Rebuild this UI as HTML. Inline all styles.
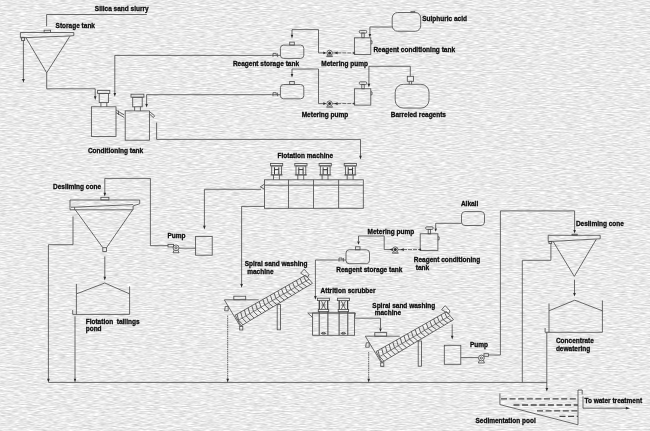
<!DOCTYPE html>
<html><head><meta charset="utf-8"><title>Silica sand flotation process flow</title>
<style>
html,body{margin:0;padding:0;background:#e4e4e4;}
body{width:650px;height:431px;overflow:hidden;}
svg{display:block;will-change:transform;}
svg path,svg rect,svg circle,svg polygon,svg polyline,svg ellipse{fill:none;stroke:#505050;stroke-width:0.85;}
svg .f{fill:#2a2a2a;stroke:none;}
svg .bg{stroke:none;}
svg text{font-family:"Liberation Sans",Arial,sans-serif;font-weight:bold;font-size:6.5px;fill:#0c0c0c;stroke:#0c0c0c;stroke-width:0.28;paint-order:stroke;white-space:pre;}
</style></head>
<body>
<svg width="650" height="431" viewBox="0 0 650 431">
<defs>
<filter id="tex" x="0" y="0" width="100%" height="100%" color-interpolation-filters="sRGB">
<feTurbulence type="fractalNoise" baseFrequency="0.15 0.95" numOctaves="2" seed="7"/>
<feColorMatrix type="matrix" values="0.3 0 0 0 0.768  0.3 0 0 0 0.768  0.3 0 0 0 0.768  0 0 0 0 1"/>
</filter>
</defs>
<rect class="bg" x="0" y="0" width="650" height="431" style="fill:#e9e9e9"/>
<rect class="bg" x="0" y="0" width="650" height="431" filter="url(#tex)" style="fill:#e9e9e9"/>
<text x="94.8" y="11.2">Silica sand slurry</text>
<path d="M146.8,14.5 H46.6 V26.3"/>
<text x="55.6" y="28.4">Storage tank</text>
<rect x="44.1" y="30.2" width="6.5" height="2.3"/>
<polygon points="20.4,32.5 73.8,32.5 73.8,35.6 69.9,36 26,37.6 20.4,37.8"/>
<rect x="21.4" y="37.6" width="3.2" height="2.8"/>
<path d="M26,37.8 L46.7,72.8 L69.9,36.2"/>
<path d="M23.4,40.4 V79.5"/>
<polygon class="f" points="23.4,82.8 22.1,79.1 24.7,79.1"/>
<path d="M46.7,72.8 V88.8 H95.2 V97"/>
<polygon class="f" points="95.2,100.0 93.9,96.3 96.5,96.3"/>
<path d="M271.5,55.4 H114.8 V93.5"/>
<polygon class="f" points="114.8,96.8 113.5,93.1 116.1,93.1"/>
<path d="M271.5,94.7 H146.6 V104"/>
<polygon class="f" points="146.6,107.6 145.3,103.9 147.9,103.9"/>
<rect x="97.6" y="90.4" width="12.2" height="3.0"/>
<rect x="99.2" y="93.4" width="9.2" height="9.2"/>
<path d="M100.9,102.6 V106.8 M106.8,102.6 V106.8"/>
<rect x="91.4" y="106.8" width="24.6" height="29.7"/>
<path d="M116,110 L124.3,115 M116,112.6 L124.3,117.6 M118.5,110.5 V115"/>
<rect x="131.0" y="94.2" width="12.9" height="3.0"/>
<rect x="132.7" y="97.2" width="9.5" height="9.6"/>
<path d="M134.6,106.8 V110.9 M140.4,106.8 V110.9"/>
<rect x="125.2" y="110.9" width="24.2" height="29.3"/>
<path d="M149.4,111.5 L154.6,115.8 M149.4,114 L153.4,117.6 L154.6,115.8"/>
<path d="M156.6,122.6 V139.4 H360.5 V156"/>
<polygon class="f" points="360.5,159.4 359.2,155.7 361.8,155.7"/>
<text x="87.9" y="152.8">Conditioning tank</text>
<rect x="280.4" y="45.1" width="23.4" height="13.3" rx="3.2"/>
<rect x="289.7" y="42.1" width="4.6" height="3.0"/>
<path d="M271.5,55.4 H280.4 M273,53.4 V56.9 M273,53.4 H276.2 V55.4 M277.6,53.4 V56.9"/>
<path d="M292,35.4 V29.6 H318.5 V52.9 H324.5"/>
<polygon class="f" points="292.0,38.4 290.7,34.7 293.3,34.7"/>
<polygon class="f" points="326.5,52.9 323.3,51.6 323.3,54.2"/>
<circle cx="329.6" cy="52.9" r="2.7"/>
<circle class="f" cx="329.6" cy="52.9" r="1.5"/>
<path d="M327.6,55.1 L326.6,56.5 H332.6 L331.6,55.1"/>
<path d="M332.3,52.9 H354.4" stroke-dasharray="4 1"/>
<polygon class="f" points="334.2,52.9 337.6,51.6 337.6,54.2"/>
<circle class="f" cx="354.2" cy="52.9" r="1"/>
<rect x="280.4" y="84.5" width="23.4" height="14.3" rx="3.2"/>
<rect x="289.7" y="81.5" width="4.6" height="3.0"/>
<path d="M271.5,94.7 H280.4 M273,92.7 V96.2 M273,92.7 H276.2 V94.7 M277.6,92.7 V96.2"/>
<path d="M292,74.6 V69 H318.5 V103.6 H324.5"/>
<polygon class="f" points="292.0,77.6 290.7,73.9 293.3,73.9"/>
<polygon class="f" points="326.5,103.6 323.3,102.3 323.3,104.9"/>
<circle cx="329.6" cy="103.6" r="2.7"/>
<circle class="f" cx="329.6" cy="103.6" r="1.5"/>
<path d="M327.6,105.8 L326.6,107.19999999999999 H332.6 L331.6,105.8"/>
<path d="M332.3,103.6 H354.4" stroke-dasharray="4 1"/>
<polygon class="f" points="334.2,103.6 337.6,102.3 337.6,104.9"/>
<circle class="f" cx="354.2" cy="103.6" r="1"/>
<text x="232.9" y="66.1">Reagent storage tank</text>
<text x="321.3" y="66.4">Metering pump</text>
<text x="301.7" y="116.8">Metering pump</text>
<rect x="354.4" y="37.8" width="16.4" height="16.6"/>
<rect x="359.3" y="30.4" width="7.4" height="2.6" rx="1"/>
<rect x="361.8" y="33.0" width="2.4" height="4.8"/>
<path d="M370.8,40.8 h1.2 v3 h-1.2"/>
<rect x="354.4" y="88.8" width="16.4" height="16.3"/>
<rect x="359.3" y="81.8" width="7.4" height="2.6" rx="1"/>
<rect x="361.8" y="84.4" width="2.4" height="4.4"/>
<path d="M370.8,91.8 h1.2 v3 h-1.2"/>
<text x="373.4" y="51.8">Reagent conditioning tank</text>
<rect x="392.2" y="12.5" width="28.5" height="18.8" rx="5.5"/>
<path d="M410.5,11.6 H415 V12.5"/>
<text x="422.2" y="20.9">Sulphuric acid</text>
<path d="M392.2,27 H369.9 V34.5"/>
<polygon class="f" points="369.9,37.6 368.6,34.0 371.2,34.0"/>
<rect x="395.2" y="84.3" width="33.8" height="23.8" rx="8"/>
<rect x="407.3" y="76.3" width="6.2" height="5.0"/>
<path d="M409.2,81.3 V84.3 M411.6,81.3 V84.3"/>
<path d="M410.3,76.3 V66.3 H368.9 V84"/>
<polygon class="f" points="368.9,87.4 367.6,83.8 370.2,83.8"/>
<text x="390.7" y="116.8">Barreled reagents</text>
<text x="277.5" y="157.5">Flotation machine</text>
<rect x="264.5" y="179.8" width="98.8" height="28.5"/>
<path d="M288.5,179.8 V208.3 M313.5,179.8 V208.3 M338.6,179.8 V208.3 M264.5,185.2 H363.3"/>
<rect x="270.5" y="163.5" width="12.2" height="2.4"/>
<rect x="271.7" y="165.9" width="9.8" height="9.0"/>
<path d="M270.5,174.9 H282.70000000000005 M273.5,174.9 V179.8 M279.40000000000003,174.9 V179.8"/>
<path d="M274.5,167.3 V174.3 M278.8,167.3 V174.3 M274.5,169.6 H278.8" style="stroke:#3a3a3a;stroke-width:1"/>
<rect x="294.8" y="163.5" width="12.2" height="2.4"/>
<rect x="296.0" y="165.9" width="9.8" height="9.0"/>
<path d="M294.79999999999995,174.9 H307.0 M297.79999999999995,174.9 V179.8 M303.7,174.9 V179.8"/>
<path d="M298.79999999999995,167.3 V174.3 M303.09999999999997,167.3 V174.3 M298.79999999999995,169.6 H303.09999999999997" style="stroke:#3a3a3a;stroke-width:1"/>
<rect x="319.1" y="163.5" width="12.2" height="2.4"/>
<rect x="320.3" y="165.9" width="9.8" height="9.0"/>
<path d="M319.09999999999997,174.9 H331.3 M322.09999999999997,174.9 V179.8 M328.0,174.9 V179.8"/>
<path d="M323.09999999999997,167.3 V174.3 M327.4,167.3 V174.3 M323.09999999999997,169.6 H327.4" style="stroke:#3a3a3a;stroke-width:1"/>
<rect x="344.2" y="163.5" width="12.2" height="2.4"/>
<rect x="345.4" y="165.9" width="9.8" height="9.0"/>
<path d="M344.2,174.9 H356.40000000000003 M347.2,174.9 V179.8 M353.1,174.9 V179.8"/>
<path d="M348.2,167.3 V174.3 M352.5,167.3 V174.3 M348.2,169.6 H352.5" style="stroke:#3a3a3a;stroke-width:1"/>
<path d="M264.5,184.2 L260.3,186.8 L264.5,189.3 M261,189.3 H204.4 V226"/>
<polygon class="f" points="204.4,229.4 203.1,225.8 205.7,225.8"/>
<path d="M264.5,206.4 H241.6 V284.3"/>
<polygon class="f" points="241.6,287.7 240.3,284.0 242.9,284.0"/>
<rect x="195.6" y="236.4" width="16.6" height="18.8"/>
<text x="167.5" y="237.8">Pump</text>
<path d="M195.6,248.2 H179"/>
<circle cx="176" cy="247.8" r="2.9"/>
<circle cx="176" cy="247.8" r="1.1"/>
<path d="M174,250.20000000000002 L173,252.8 H179 L178,250.20000000000002"/>
<rect x="168.0" y="244.4" width="5.6" height="2.6"/>
<path d="M168,245.7 H150.4 V178.4 H104.8 V193"/>
<polygon class="f" points="104.8,196.4 103.5,192.7 106.1,192.7"/>
<text x="53.0" y="189.4">Desliming cone</text>
<rect x="100.9" y="197.3" width="8.0" height="2.7"/>
<polygon points="70,200 139.7,200 139.7,203.8 133.1,205.9 133.1,209.8 70,209.8"/>
<path d="M71,207.3 L133.1,204.6 M74.6,207.2 V209.8"/>
<path d="M75.3,209.8 L102.8,247.7 M106.5,247.7 L132.6,209.8"/>
<rect x="102.8" y="247.7" width="3.7" height="3.8"/>
<path d="M73,216.4 V244.7 H48.4 V379"/>
<polygon class="f" points="48.4,382.4 47.1,378.7 49.7,378.7"/>
<path d="M104.8,256.5 V277"/>
<polygon class="f" points="104.8,280.4 103.5,276.7 106.1,276.7"/>
<path d="M76.4,293.9 L104.8,283 L129.6,293.9 M76.4,283.9 V314.4 M129.6,286.4 V314.4 M72.7,314.4 H129.6 M72.7,310 V314.4"/>
<path d="M75,316.4 V379"/>
<polygon class="f" points="75.0,382.4 73.7,378.7 76.3,378.7"/>
<text x="85.7" y="324.0">Flotation  tailings</text>
<text x="85.7" y="331.0">pond</text>
<path d="M48.4,382.4 H547"/>
<path d="M546.8,332.3 V388"/>
<polygon class="f" points="546.8,391.6 545.5,387.9 548.1,387.9"/>
<polyline points="258.7,299.8 224.3,299.8 240.3,326.3"/>
<rect x="233.8" y="296.2" width="11.9" height="3.6"/>
<polygon points="235.1,315.2 305.6,275.2 312.5,283.3 241.0,325.9"/>
<path d="M237.0,314.1 L238.6,320.2 L242.9,324.8 M240.7,312.0 L242.3,318.1 L246.6,322.5 M244.4,309.9 L246.1,315.9 L250.4,320.3 M248.1,307.8 L249.8,313.7 L254.2,318.1 M251.8,305.7 L253.6,311.5 L257.9,315.8 M255.5,303.6 L257.3,309.4 L261.7,313.6 M259.2,301.5 L261.0,307.2 L265.5,311.3 M262.9,299.4 L264.8,305.0 L269.2,309.1 M266.6,297.3 L268.5,302.8 L273.0,306.8 M270.4,295.2 L272.2,300.7 L276.8,304.6 M274.1,293.1 L276.0,298.5 L280.5,302.4 M277.8,291.0 L279.7,296.3 L284.3,300.1 M281.5,288.9 L283.5,294.1 L288.0,297.9 M285.2,286.8 L287.2,292.0 L291.8,295.6 M288.9,284.7 L290.9,289.8 L295.6,293.4 M292.6,282.6 L294.7,287.6 L299.3,291.1 M296.3,280.5 L298.4,285.4 L303.1,288.9 M300.0,278.4 L302.1,283.3 L306.9,286.7 M303.7,276.3 L305.9,281.1 L310.6,284.4 " style="stroke-width:0.85;stroke:#484848"/>
<path d="M238.1,320.5 L309.1,279.2" style="stroke-width:0.7"/>
<polygon points="300.6,273.2 304.2,269.2 309.0,274.6 307.6,277.4"/>
<polygon points="225.3,306.4 228.2,306.4 228.2,310.8 224.6,310.8"/>
<path d="M227.7,315.6 V379" stroke-dasharray="1.6 0.6"/>
<polygon class="f" points="227.7,382.4 226.4,378.7 229.0,378.7"/>
<rect x="277.2" y="304.6" width="3.3" height="25.2"/>
<rect x="239.7" y="326.4" width="3.1" height="3.6"/>
<text x="244.7" y="265.6">Spiral sand washing</text>
<text x="247.2" y="273.5">machine</text>
<polyline points="399.7,336.2 365.3,336.2 381.3,362.7"/>
<rect x="374.8" y="332.6" width="11.9" height="3.6"/>
<polygon points="376.1,351.6 446.6,311.6 453.5,319.7 382.0,362.3"/>
<path d="M378.0,350.5 L379.6,356.6 L383.9,361.2 M381.7,348.4 L383.3,354.5 L387.6,358.9 M385.4,346.3 L387.1,352.3 L391.4,356.7 M389.1,344.2 L390.8,350.1 L395.2,354.5 M392.8,342.1 L394.6,347.9 L398.9,352.2 M396.5,340.0 L398.3,345.8 L402.7,350.0 M400.2,337.9 L402.0,343.6 L406.5,347.7 M403.9,335.8 L405.8,341.4 L410.2,345.5 M407.6,333.7 L409.5,339.2 L414.0,343.2 M411.4,331.6 L413.2,337.1 L417.8,341.0 M415.1,329.5 L417.0,334.9 L421.5,338.8 M418.8,327.4 L420.7,332.7 L425.3,336.5 M422.5,325.3 L424.5,330.5 L429.0,334.3 M426.2,323.2 L428.2,328.4 L432.8,332.0 M429.9,321.1 L431.9,326.2 L436.6,329.8 M433.6,319.0 L435.7,324.0 L440.3,327.5 M437.3,316.9 L439.4,321.8 L444.1,325.3 M441.0,314.8 L443.1,319.7 L447.9,323.1 M444.7,312.7 L446.9,317.5 L451.6,320.8 " style="stroke-width:0.85;stroke:#484848"/>
<path d="M379.1,356.9 L450.1,315.6" style="stroke-width:0.7"/>
<polygon points="441.6,309.6 445.2,305.6 450.0,311.0 448.6,313.8"/>
<polygon points="366.3,342.8 369.2,342.8 369.2,347.2 365.6,347.2"/>
<path d="M368.7,352.0 V379" stroke-dasharray="1.6 0.6"/>
<polygon class="f" points="368.7,382.4 367.4,378.7 370.0,378.7"/>
<rect x="418.2" y="341.0" width="3.3" height="25.2"/>
<rect x="380.7" y="362.8" width="3.1" height="3.6"/>
<text x="372.3" y="307.7">Spiral sand washing</text>
<text x="374.7" y="315.4">machine</text>
<text x="320.6" y="293.3">Attrition scrubber</text>
<rect x="317.5" y="298.2" width="12.0" height="2.4"/>
<path d="M319.3,300.6 V309.4 M327.7,300.6 V309.4" style="stroke:#3a3a3a;stroke-width:1.2"/>
<path d="M321.5,301.2 L325.5,309 M325.5,301.2 L321.5,309 M321.5,305 H325.5"/>
<rect x="318.3" y="309.4" width="10.4" height="2.2"/>
<path d="M319.2,311.6 V335.3 M327.9,311.6 V335.3" style="stroke:#444;stroke-width:1"/>
<ellipse cx="323.5" cy="333.3" rx="1.9" ry="0.9"/>
<path d="M320.9,333.3 H326.1"/>
<rect x="337.4" y="298.2" width="12.0" height="2.4"/>
<path d="M339.2,300.6 V309.4 M347.59999999999997,300.6 V309.4" style="stroke:#3a3a3a;stroke-width:1.2"/>
<path d="M341.4,301.2 L345.4,309 M345.4,301.2 L341.4,309 M341.4,305 H345.4"/>
<rect x="338.2" y="309.4" width="10.4" height="2.2"/>
<path d="M339.09999999999997,311.6 V335.3 M347.79999999999995,311.6 V335.3" style="stroke:#444;stroke-width:1"/>
<ellipse cx="343.4" cy="333.3" rx="1.9" ry="0.9"/>
<path d="M340.79999999999995,333.3 H346.0"/>
<path d="M307.7,313 H355.4 M307.7,313 L312.6,317.5 M355.4,313 L354.6,317.5"/>
<rect x="312.6" y="313.0" width="42.0" height="22.3"/>
<path d="M355,318.2 H380.5 V328.6"/>
<polygon class="f" points="380.5,332.0 379.2,328.4 381.8,328.4"/>
<text x="460.9" y="206.1">Alkali</text>
<rect x="461.5" y="211.6" width="23.0" height="13.9" rx="3.5"/>
<path d="M461.5,223.3 H435.7 V228.6"/>
<polygon class="f" points="435.7,231.8 434.4,228.4 437.0,228.4"/>
<rect x="420.2" y="233.8" width="17.7" height="16.6"/>
<rect x="425.7" y="226.8" width="7.4" height="2.6" rx="1"/>
<rect x="428.2" y="229.4" width="2.4" height="4.4"/>
<path d="M437.9,236.8 h1.2 v3 h-1.2"/>
<text x="367.6" y="234.0">Metering pump</text>
<circle cx="395.3" cy="249.6" r="2.7"/><circle class="f" cx="395.3" cy="249.6" r="1.5"/>
<path d="M393.3,251.8 L392.3,253.2 H398.3 L397.3,251.8"/>
<path d="M398,249.6 H420.2" stroke-dasharray="4 1"/>
<polygon class="f" points="400.4,249.6 403.8,248.3 403.8,250.9"/>
<circle class="f" cx="420.2" cy="249.6" r="1"/>
<path d="M392.6,249.6 H384.2 V236 H358.5 V241.6"/>
<polygon class="f" points="358.5,244.8 357.2,241.4 359.8,241.4"/>
<polygon class="f" points="389.5,249.6 392.7,248.3 392.7,250.9"/>
<rect x="346.0" y="249.8" width="23.5" height="13.9" rx="3.2"/>
<rect x="355.4" y="246.8" width="4.6" height="3.0"/>
<path d="M337.7,260 H346 M339,258 V261.5 M339,258 H342 V260 M343.4,258 V261.5"/>
<path d="M337.7,260 H315.4 V296.3"/>
<polygon class="f" points="315.4,299.7 314.1,296.1 316.7,296.1"/>
<text x="336.3" y="271.6">Reagent storage tank</text>
<text x="413.8" y="262.1">Reagent conditioning</text>
<text x="415.8" y="269.8">tank</text>
<path d="M452.2,324.4 V336"/>
<polygon class="f" points="452.2,339.4 450.9,335.8 453.5,335.8"/>
<rect x="444.3" y="345.3" width="16.5" height="19.0"/>
<text x="469.9" y="346.9">Pump</text>
<path d="M460.8,357.6 H478"/>
<circle cx="481.4" cy="358" r="2.9"/>
<circle cx="481.4" cy="358" r="1.1"/>
<path d="M479.4,360.4 L478.4,363 H484.4 L483.4,360.4"/>
<rect x="484.0" y="353.7" width="4.5" height="2.6"/>
<path d="M488.5,355 H500.4 V210.9 H574.6 V230"/>
<polygon class="f" points="574.6,233.6 573.3,229.9 575.9,229.9"/>
<text x="575.9" y="226.1">Desliming cone</text>
<rect x="572.0" y="234.2" width="5.2" height="1.1"/>
<polygon points="548.2,235.3 600.2,235.3 600.2,238.8 548.2,241.6"/>
<path d="M553.1,241.4 L574.3,276.4 L596.3,239.2"/>
<rect x="548.9" y="241.4" width="2.8" height="2.0"/>
<path d="M550.9,243.4 V260.3 H522.3 V382.4"/>
<path d="M574.5,279.7 V293.4"/>
<polygon class="f" points="574.5,296.6 573.2,293.0 575.8,293.0"/>
<path d="M549,310.8 L574.8,300.2 L602.4,310.8 M549,303.5 V332.3 M602.4,300.5 V332.3 M545.1,332.3 H602.4 M545.1,328 V332.3"/>
<text x="555.9" y="342.5">Concentrate</text>
<text x="555.9" y="350.8">dewatering</text>
<path d="M499.9,393.5 V404.6 L578,424.8 V390 H582.2 V394.4"/>
<path d="M583,396.3 V408.2 H626.5"/>
<polygon class="f" points="630.0,408.2 625.8,406.8 625.8,409.6"/>
<path d="M501,398.8 H578 M513.5,405 H578 M537,410.8 H578 M559.5,416.3 H578" style="stroke-dasharray:6 2.6;stroke-width:1.3;stroke:#484848"/>
<text x="584.4" y="403.4">To water treatment</text>
<text x="475.5" y="422.5">Sedimentation pool</text>
</svg>
</body></html>
